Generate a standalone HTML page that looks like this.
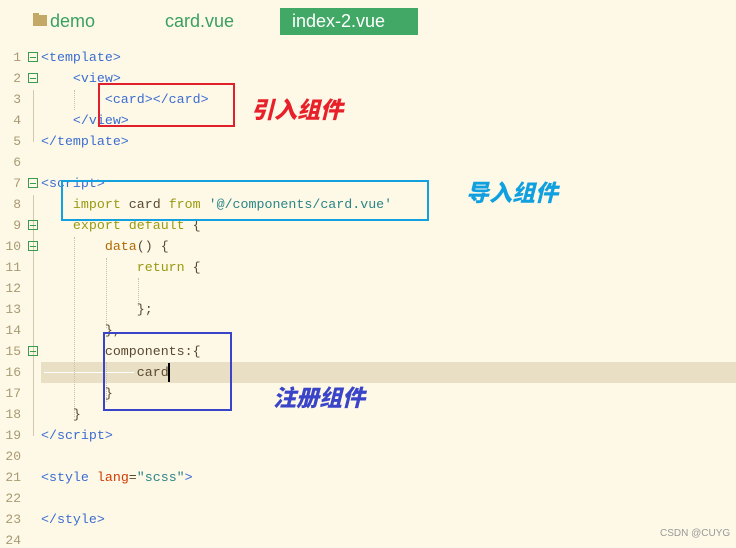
<!DOCTYPE html>
<html><head><meta charset="utf-8"><style>
body{margin:0;width:736px;height:548px;background:#fef8e7;position:relative;overflow:hidden;font-family:"Liberation Mono",monospace;}
.ln{position:absolute;left:0;width:21px;text-align:right;font-size:13px;color:#a89a72;}
.c{position:absolute;font-size:13.3px;white-space:pre;color:#5a4a30;}
.t{color:#3b6ed0}.k{color:#9a9a10}.s{color:#2a8585}.f{color:#b06a00}.a{color:#d03a00}
.fold{position:absolute;left:28px;width:8px;height:8px;border:1px solid #3a9a50;}
.fold:after{content:"";position:absolute;left:1px;top:3.5px;width:6px;height:1px;background:#3a9a50;}
.box{position:absolute;border:2px solid;}
.lab{position:absolute;font-family:"Noto Sans CJK SC",sans-serif;font-weight:900;font-style:italic;font-size:23px;}
.tab{position:absolute;font-family:"Liberation Sans","DejaVu Sans",sans-serif;font-size:18px;color:#3aa060;top:11px;}
.g{position:absolute;border-left:1px dotted #c8c0a8;}
.tr{position:absolute;border-left:1px solid #d0c8b0;left:33px;}
</style></head><body>
<div style="position:absolute;left:33px;top:15px;width:14px;height:11px;background:#c4a868;"></div>
<div style="position:absolute;left:33px;top:13px;width:6px;height:3px;background:#c4a868;"></div>
<div class="tab" style="left:50px">demo</div>
<div class="tab" style="left:165px">card.vue</div>
<div style="position:absolute;left:280px;top:8px;width:138px;height:27px;background:#41a865;"></div>
<div class="tab" style="left:292px;color:#fff">index-2.vue</div>

<div style="position:absolute;left:41px;top:362px;width:695px;height:21px;background:#e8dfc4;"></div>
<div style="position:absolute;left:44px;top:372px;width:90px;border-top:1px solid #fff;"></div>

<div class="tr" style="top:90px;height:52px"></div>
<div class="tr" style="top:195px;height:241px"></div>
<div class="g" style="left:74px;top:90px;height:20px"></div>
<div class="g" style="left:74px;top:237px;height:180px"></div>
<div class="g" style="left:106px;top:258px;height:70px"></div>
<div class="g" style="left:106px;top:362px;height:40px"></div>
<div class="g" style="left:138px;top:278px;height:28px"></div>

<div id="code"></div>
<script>
var L=[
['<span class="t">&lt;template&gt;</span>',1],
['    <span class="t">&lt;view&gt;</span>',1],
['        <span class="t">&lt;card&gt;&lt;/card&gt;</span>',0],
['    <span class="t">&lt;/view&gt;</span>',0],
['<span class="t">&lt;/template&gt;</span>',0],
['',0],
['<span class="t">&lt;script&gt;</span>',1],
['    <span class="k">import</span> card <span class="k">from</span> <span class="s">\'@/components/card.vue\'</span>',0],
['    <span class="k">export default</span> {',1],
['        <span class="f">data</span>() {',1],
['            <span class="k">return</span> {',0],
['',0],
['            };',0],
['        },',0],
['        components:{',1],
['            card',0],
['        }',0],
['    }',0],
['<span class="t">&lt;/script&gt;</span>',0],
['',0],
['<span class="t">&lt;style</span> <span class="a">lang</span>=<span class="s">"scss"</span><span class="t">&gt;</span>',0],
['',0],
['<span class="t">&lt;/style&gt;</span>',0],
['',0]];
var h='';
for(var i=0;i<L.length;i++){var y=47+i*21;
h+='<div class="ln" style="top:'+(y+3)+'px">'+(i+1)+'</div>';
if(L[i][1])h+='<div class="fold" style="top:'+(y+5)+'px"></div>';
h+='<div class="c" style="left:41px;top:'+(y+3)+'px">'+L[i][0]+'</div>';}
document.getElementById('code').innerHTML=h;
</script>
<div style="position:absolute;left:168px;top:363px;width:2px;height:19px;background:#000;"></div>

<div class="box" style="left:98px;top:83px;width:133px;height:40px;border-color:#e0202a"></div>
<div class="box" style="left:61px;top:180px;width:364px;height:37px;border-color:#12a0e0"></div>
<div class="box" style="left:103px;top:332px;width:125px;height:75px;border-color:#3a44c8"></div>
<div class="lab" style="left:251px;top:91px;color:#e8202a">引入组件</div>
<div class="lab" style="left:466px;top:174px;color:#10a0e0">导入组件</div>
<div class="lab" style="left:273px;top:379px;color:#3a44c8">注册组件</div>
<div style="position:absolute;left:660px;top:528px;font-family:'Liberation Sans',sans-serif;font-size:10px;color:#999;">CSDN @CUYG</div>
</body></html>
